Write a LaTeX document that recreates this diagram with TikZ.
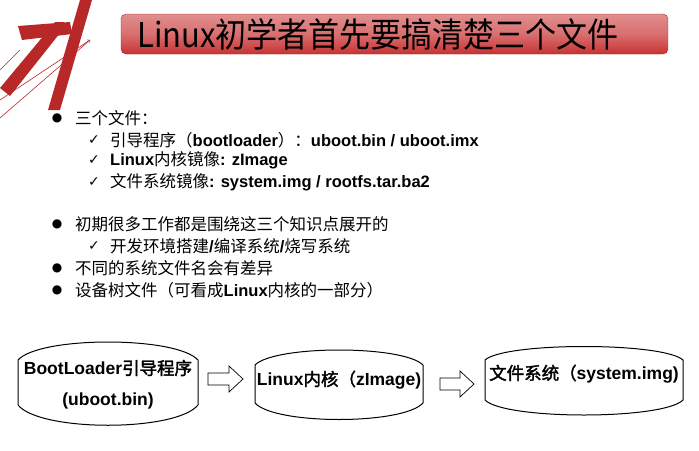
\documentclass[tikz,border=0pt]{standalone}
\usepackage{fontspec}
\setmainfont{Noto Sans CJK SC}
\newfontfamily\lat{Liberation Sans}
\newfontfamily\cjkb[FakeBold=2]{Noto Sans CJK SC}
\newfontfamily\sym{DejaVu Sans}
\definecolor{tred}{RGB}{200,50,50}
\definecolor{dred}{RGB}{185,40,40}
\tikzset{
  txt/.style={anchor=west,inner sep=0,font=\fontsize{16.5}{16.5}\selectfont},
  bul/.style={anchor=center,inner sep=0,font=\sym\fontsize{12}{12}\selectfont},
  chk/.style={anchor=center,inner sep=0,font=\sym\fontsize{14}{14}\selectfont},
  blk/.style={draw=black,fill=white,line width=0.7pt},
  cyl/.style={draw=black,line width=1pt,fill=white},
  ctxt/.style={inner sep=0,font=\cjkb\fontsize{17.5}{17.5}\selectfont}
}
\newcommand{\B}[1]{{\lat\bfseries #1}}
\begin{document}
\begin{tikzpicture}[x=1pt,y=-1pt]
\useasboundingbox[fill=white] (0,0) rectangle (699,450);
% decoration
\fill[dred] (0,88) -- (55,22) -- (64,22) -- (64,28) -- (10,96) -- cycle;
\fill[dred] (18,26) -- (70,22) -- (72,34) -- (22,40) -- cycle;
\fill[dred] (48,110) -- (80,0) -- (92,0) -- (60,110) -- cycle;
\draw[dred,line width=0.6pt] (0,70) -- (20,50);
\draw[dred,line width=0.6pt] (0,100) -- (90,40);
\draw[dred,line width=0.6pt,->] (0,118) -- (90,40);
% title
\shade[top color=tred!55!white,bottom color=tred,middle color=tred!70!white,rounded corners=5pt,draw=tred!80!black,line width=0.4pt] (121,14) rectangle (668,54);
\node[anchor=west,inner sep=0,font=\fontsize{31}{31}\selectfont] (title) at (137,34) {\scalebox{1}[1.1]{Linux初学者首先要搞清楚三个文件}};
% bullets
\node[bul] (b1) at (57,118) {●};
\node[txt] (t1) at (75,118) {三个文件：};
\node[chk] (c1) at (94,140) {✓};
\node[txt] (t2) at (110,140) {引导程序（\B{bootloader}）：\B{uboot.bin / uboot.imx}};
\node[chk] (c2) at (94,160) {✓};
\node[txt] (t3) at (110,160) {\B{Linux}内核镜像\B{: zImage}};
\node[chk] (c3) at (94,182) {✓};
\node[txt] (t4) at (110,182) {文件系统镜像\B{: system.img / rootfs.tar.ba2}};
\node[bul] (b2) at (57,224) {●};
\node[txt] (t5) at (75,224) {初期很多工作都是围绕这三个知识点展开的};
\node[chk] (c4) at (94,246) {✓};
\node[txt] (t6) at (110,246) {开发环境搭建\B{/}编译系统\B{/}烧写系统};
\node[bul] (b3) at (57,268) {●};
\node[txt] (t7) at (75,268) {不同的系统文件名会有差异};
\node[bul] (b4) at (57,290) {●};
\node[txt] (t8) at (75,290) {设备树文件（可看成\B{Linux}内核的一部分）};
% boxes
\draw[cyl] (18,360) .. controls (40,336) and (176,336) .. (198,360) -- (198,405) .. controls (176,432) and (40,432) .. (18,405) -- cycle;
\draw[cyl] (255,365) .. controls (275,345) and (403,345) .. (423,365) -- (423,403) .. controls (403,425) and (275,425) .. (255,403) -- cycle;
\draw[cyl] (485,360) .. controls (505,342) and (663,342) .. (683,360) -- (683,400) .. controls (663,420) and (505,420) .. (485,400) -- cycle;
\node[ctxt] (n1) at (108,368) {\textbf{\lat BootLoader}引导程序};
\node[ctxt] (n1b) at (108,401) {\textbf{\lat (uboot.bin)}};
\node[ctxt] (n2) at (339,380) {\textbf{\lat Linux}内核（\textbf{\lat zImage)}};
\node[ctxt] (n3) at (584,374) {文件系统（\textbf{\lat system.img)}};
\draw[blk] (208,373) -- (229,373) -- (229,366) -- (243,379) -- (229,392) -- (229,385) -- (208,385) -- cycle;
\draw[blk] (440,378) -- (460,378) -- (460,371) -- (474,384) -- (460,397) -- (460,390) -- (440,390) -- cycle;
\end{tikzpicture}
\end{document}
